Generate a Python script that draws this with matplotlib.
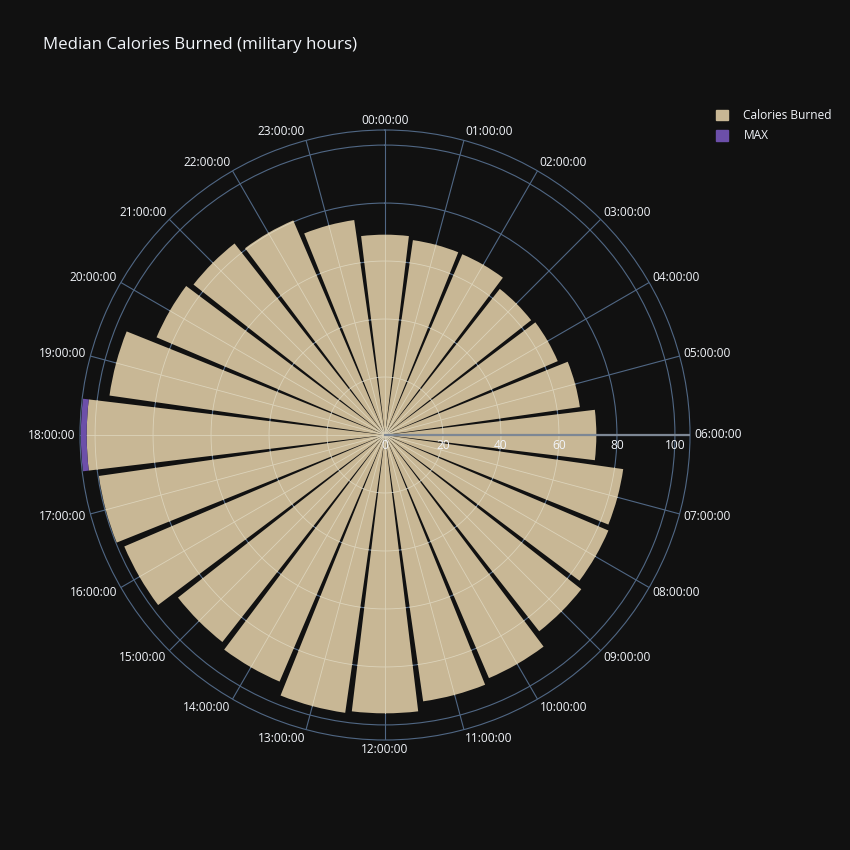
import numpy as np
import matplotlib.pyplot as plt
from matplotlib.patches import Patch

# median calories per hour of day
hours = [f"{h:02d}:00:00" for h in range(24)]
calories = [69.1, 67.9, 67.8, 64.1, 64.8, 67.9, 72.9, 83.0, 83.8, 86.1, 91.2, 92.8,
            96.0, 96.8, 92.5, 90.8, 97.8, 99.7, 102.9, 96.0, 85.7, 84.0, 80.5, 74.9]
max_cap = 2.0          # thin "MAX" segment stacked on the top hour
r_ticks = [0, 20, 40, 60, 80, 100]
r_max = 105.2

BG = '#111111'
TAN = '#C8B795'
PURPLE = '#6C4FA9'
GRID = '#506784'
LIGHT = '#dcd3ba'
TXT = '#f2f5fa'
plt.rcParams['font.family'] = ['Open Sans', 'DejaVu Sans']

fig = plt.figure(figsize=(8.5, 8.5), dpi=100, facecolor=BG)
ax = fig.add_axes([80 / 850, 110 / 850, 610 / 850, 610 / 850], projection='polar', facecolor=BG)
ax.set_theta_zero_location('N')
ax.set_theta_direction(-1)

theta = np.deg2rad(np.arange(24) * 15.0)
width = np.deg2rad(13.7)

ax.bar(theta, calories, width=width, color=TAN, linewidth=0, zorder=2)
imax = int(np.argmax(calories))
ax.bar(theta[imax], max_cap, bottom=calories[imax], width=width, color=PURPLE, linewidth=0, zorder=2)

# faint grid drawn over the bars
for t, h in zip(theta, calories):
    if not np.isclose(t, np.pi / 2):
        ax.plot([t, t], [0, h], color=LIGHT, lw=0.6, zorder=3)
    tt = np.linspace(t - width / 2, t + width / 2, 20)
    for r in r_ticks[1:]:
        if r < h:
            ax.plot(tt, [r] * len(tt), color=LIGHT, lw=0.6, zorder=3)

ax.set_ylim(0, r_max)
ax.set_xticks(theta)
ax.set_xticklabels([])
ax.set_yticks(r_ticks[1:])
ax.set_yticklabels([])
ax.set_axisbelow(True)
ax.grid(True, color=GRID, lw=0.8)
ax.spines['polar'].set_color(GRID)
ax.spines['polar'].set_linewidth(0.8)
ax.tick_params(length=0)

# radial axis line along 06:00
ax.plot([np.pi / 2, np.pi / 2], [0, r_max], color='#7d8794', lw=1.6, zorder=4)
for r in r_ticks:
    ax.annotate(str(r), xy=(np.pi / 2, r), xytext=(0, -3), textcoords='offset points',
                ha='center', va='top', color=TXT, fontsize=8.6, zorder=5)

# hour labels around the rim
for t, lab in zip(theta, hours):
    s, c = np.sin(t), np.cos(t)
    ha = 'left' if s > 0.01 else ('right' if s < -0.01 else 'center')
    ax.annotate(lab, xy=(t, r_max), xytext=(3 * s, 7 * c), textcoords='offset points',
                ha=ha, va='center', color=TXT, fontsize=8.6, annotation_clip=False)

fig.text(43 / 850, 1 - 45 / 850, 'Median Calories Burned (military hours)',
         ha='left', va='center', color=TXT, fontsize=12.2)

handles = [Patch(color=TAN, label='Calories Burned'), Patch(color=PURPLE, label='MAX')]
fig.legend(handles=handles, loc='upper left', bbox_to_anchor=(716 / 850, 1 - 109 / 850),
           frameon=False, fontsize=8.6, labelcolor=TXT, handlelength=1.0, handleheight=1.0,
           handletextpad=1.3, labelspacing=0.62, borderpad=0, borderaxespad=0)

fig.savefig('out.png', dpi=100, facecolor=BG)
